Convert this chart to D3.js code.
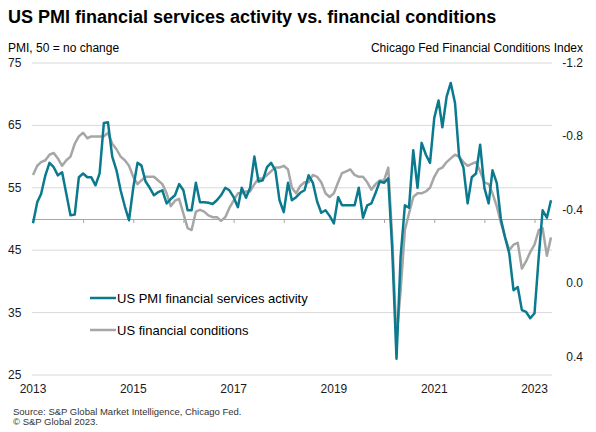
<!DOCTYPE html>
<html>
<head>
<meta charset="utf-8">
<script src="https://cdn.jsdelivr.net/npm/d3@7"></script>
<style>
    body { margin: 0; background: #fff; }
    svg { font-family: 'Liberation Sans', Arial, sans-serif; }
    .grid line { stroke: #d9d9d9; stroke-width: 1; }
    .tick-label { font-size: 12px; fill: #1a1a1a; }
</style>
</head>
<body>
<svg id="chart" width="596" height="432"></svg>
<script>
// PMI financial services activity, monthly from Jan 2013 to May 2023
const pmiValues = [
    49.3, 52.7, 54.0, 57.0, 59.0, 58.3, 57.0, 57.5, 54.0, 50.6, 50.7, 56.7,
    57.3, 56.7, 56.7, 55.4, 57.3, 65.4, 65.5, 60.0, 57.8, 54.6, 52.0, 49.8,
    55.0, 59.0, 58.6, 56.0, 55.0, 53.8, 54.3, 54.6, 52.5, 53.2, 53.8, 55.6,
    54.6, 51.4, 51.4, 55.8, 52.7, 52.7, 52.6, 52.4, 53.0, 53.8, 55.0, 54.6,
    53.5, 51.9, 55.0, 53.4, 55.0, 60.0, 56.0, 56.2, 58.3, 59.0, 57.8, 53.0,
    51.1, 55.8, 53.0, 53.5, 54.2, 54.6, 57.0, 55.8, 52.8, 51.0, 51.4, 50.5,
    49.3, 53.5, 52.2, 52.2, 52.2, 52.2, 55.0, 50.2, 52.2, 52.5, 54.2, 56.0,
    55.8, 56.5, 45.0, 27.6, 44.0, 52.2, 51.8, 61.0, 55.0, 62.2, 60.3, 59.0,
    66.2, 69.0, 64.7, 69.6, 71.8, 68.6, 60.0, 58.3, 52.5, 56.7, 57.3, 61.9,
    55.0, 52.5, 57.8, 55.8, 50.0, 47.0, 44.5, 38.6, 39.1, 35.4, 35.1, 34.1,
    34.9, 44.0, 51.4, 50.2, 53.0
];

// Chicago Fed Financial Conditions Index, same months (right axis, inverted)
const nfciValues = [
    -0.59, -0.64, -0.66, -0.67, -0.70, -0.71, -0.68, -0.64, -0.67, -0.69, -0.76, -0.80,
    -0.82, -0.79, -0.80, -0.80, -0.80, -0.80, -0.82, -0.76, -0.73, -0.69, -0.67, -0.64,
    -0.58, -0.54, -0.56, -0.58, -0.58, -0.58, -0.56, -0.54, -0.49, -0.42, -0.45, -0.46,
    -0.38, -0.30, -0.29, -0.39, -0.40, -0.39, -0.37, -0.36, -0.36, -0.34, -0.36, -0.41,
    -0.45, -0.49, -0.49, -0.50, -0.50, -0.54, -0.57, -0.57, -0.59, -0.61, -0.63, -0.63,
    -0.64, -0.62, -0.52, -0.49, -0.53, -0.55, -0.55, -0.59, -0.58, -0.55, -0.49, -0.47,
    -0.49, -0.55, -0.60, -0.61, -0.62, -0.59, -0.58, -0.58, -0.55, -0.51, -0.54, -0.56,
    -0.56, -0.63, -0.24, 0.30, 0.04, -0.29, -0.38, -0.47, -0.49, -0.49, -0.50, -0.52,
    -0.58, -0.62, -0.63, -0.66, -0.68, -0.70, -0.69, -0.66, -0.64, -0.65, -0.66, -0.61,
    -0.55, -0.54, -0.49, -0.42, -0.33, -0.25, -0.18, -0.21, -0.22, -0.08, -0.12, -0.17,
    -0.21, -0.29, -0.30, -0.15, -0.25
];

const leftTicks = [25, 35, 45, 55, 65, 75];
const rightTicks = [-1.2, -0.8, -0.4, 0.0, 0.4];
const yearLabels = [2013, 2015, 2017, 2019, 2021, 2023];

const seriesNames = ['US PMI financial services activity', 'US financial conditions'];
const seriesColors = ['#0b7a8f', '#a6a6a6'];

document.addEventListener('DOMContentLoaded', function () {
    const svg = d3.select('#chart');

    const months = d3.timeMonth.range(new Date(2013, 0, 1), new Date(2023, 5, 1));

    const x = d3.scaleTime()
        .domain([new Date(2013, 0, 1), new Date(2023, 4, 1)])
        .range([33, 551]);
    const yLeft = d3.scaleLinear().domain([25, 75]).range([375, 63]);
    const yRight = d3.scaleLinear().domain([0.5, -1.2]).range([375, 63]);

    // Titel och axelrubriker
    svg.append('text')
        .attr('x', 8).attr('y', 23)
        .style('font-size', '18px').style('font-weight', 'bold')
        .text('US PMI financial services activity vs. financial conditions');

    svg.append('text')
        .attr('x', 8).attr('y', 52)
        .style('font-size', '12px')
        .text('PMI, 50 = no change');

    svg.append('text')
        .attr('x', 583).attr('y', 52)
        .attr('text-anchor', 'end')
        .style('font-size', '12px')
        .text('Chicago Fed Financial Conditions Index');

    // Horisontella stödlinjer
    svg.append('g')
        .attr('class', 'grid')
        .selectAll('line')
        .data(leftTicks)
        .join('line')
        .attr('x1', 32).attr('x2', 552)
        .attr('y1', d => yLeft(d)).attr('y2', d => yLeft(d));

    svg.append('g')
        .selectAll('text')
        .data(leftTicks)
        .join('text')
        .attr('class', 'tick-label')
        .attr('x', 8)
        .attr('y', d => yLeft(d) + 4)
        .text(d => d);

    // Höger axel, vanligt bindestreck som minustecken
    svg.append('g')
        .selectAll('text')
        .data(rightTicks)
        .join('text')
        .attr('class', 'tick-label')
        .attr('x', 583)
        .attr('y', d => yRight(d) + 4)
        .attr('text-anchor', 'end')
        .text(d => d.toFixed(1));

    // X-axel vid 50
    const xAxis = d3.axisBottom(x)
        .ticks(d3.timeYear.every(1))
        .tickSize(4)
        .tickFormat('');
    const axisG = svg.append('g')
        .attr('transform', `translate(0,${yLeft(50)})`)
        .call(xAxis);
    axisG.select('.domain').attr('d', `M32,0.5H552`).attr('stroke', '#a6a6a6');
    axisG.selectAll('.tick line').attr('stroke', '#a6a6a6');

    svg.append('g')
        .selectAll('text')
        .data(yearLabels)
        .join('text')
        .attr('class', 'tick-label')
        .attr('x', d => x(new Date(d, 0, 1)))
        .attr('y', 393)
        .attr('text-anchor', 'middle')
        .text(d => d);

    // Linjer
    const pmiLine = d3.line()
        .x((d, i) => x(months[i]))
        .y(d => yLeft(d));
    const nfciLine = d3.line()
        .x((d, i) => x(months[i]))
        .y(d => yRight(d));

    svg.append('path')
        .datum(nfciValues)
        .attr('d', nfciLine)
        .attr('fill', 'none')
        .attr('stroke', seriesColors[1])
        .attr('stroke-width', 2.5)
        .attr('stroke-linejoin', 'round');

    svg.append('path')
        .datum(pmiValues)
        .attr('d', pmiLine)
        .attr('fill', 'none')
        .attr('stroke', seriesColors[0])
        .attr('stroke-width', 2.5)
        .attr('stroke-linejoin', 'round');

    // Förklaring
    seriesNames.forEach((name, i) => {
        const ly = 298 + i * 32;
        svg.append('line')
            .attr('x1', 90).attr('x2', 116)
            .attr('y1', ly).attr('y2', ly)
            .attr('stroke', seriesColors[i])
            .attr('stroke-width', 2.5);
        svg.append('text')
            .attr('x', 117).attr('y', ly + 5)
            .style('font-size', '13px')
            .text(name);
    });

    // Källa
    svg.append('text')
        .attr('x', 13).attr('y', 415)
        .style('font-size', '9.5px').style('fill', '#333')
        .text('Source: S&P Global Market Intelligence, Chicago Fed.');
    svg.append('text')
        .attr('x', 13).attr('y', 425)
        .style('font-size', '9.5px').style('fill', '#333')
        .text('© S&P Global 2023.');
});
</script>
</body>
</html>
